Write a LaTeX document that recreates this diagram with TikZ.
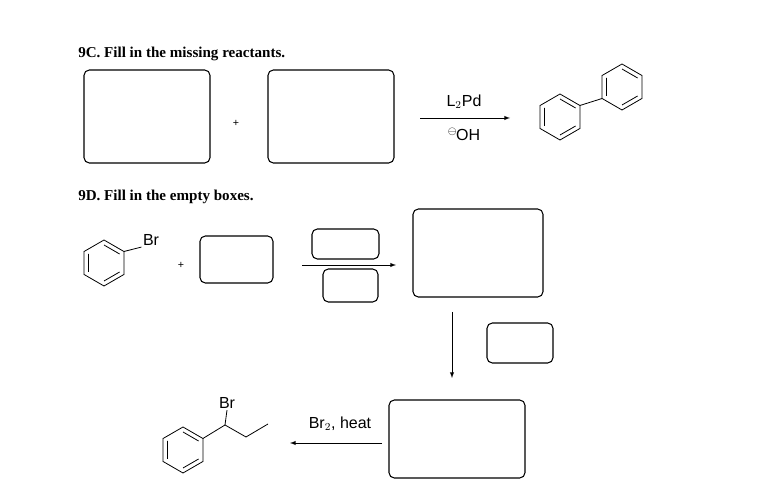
\documentclass[tikz,border=0pt]{standalone}
\usepackage{fontspec}
\usetikzlibrary{calc}
\setsansfont{Liberation Sans}
\setmainfont{Liberation Serif}
\begin{document}
\begin{tikzpicture}[x=0.75pt,y=-0.75pt,
  box/.style={draw,rounded corners=4pt,line width=0.8pt},
  lbl/.style={font=\sffamily\large,inner sep=1pt},
  ttl/.style={font=\bfseries\fontsize{11.3}{13}\selectfont,anchor=west,inner sep=0pt},
  rxn/.style={draw,-latex,line width=0.5pt},
  benzene/.pic={
    \draw[line width=0.6pt] (90:23)--(150:23)--(210:23)--(270:23)--(330:23)--(30:23)--cycle;
    \draw[line width=0.6pt] (150:18)--(210:18) (270:18)--(330:18) (30:18)--(90:18);
  }]
\useasboundingbox (0,0) rectangle (758,498);
% 9C
\node[ttl] (t9c) at (78,54) {9C. Fill in the missing reactants.};
\draw[box] (84,70) rectangle (210,163);
\draw[box] (268,70) rectangle (394,163);
\node[lbl,font=\sffamily\footnotesize] (p1) at (236,123) {+};
\coordinate (a1s) at (420,118); \coordinate (a1e) at (510,118);
\draw[rxn] (a1s)--(a1e);
\node[lbl] (l2pd) at (464,102) {L$_2$Pd};
\node[lbl] (oh) at (464,134) {$^{\ominus}$\kern-1pt OH};
\pic at (560,117) {benzene};
\pic at (622,87) {benzene};
\draw[line width=0.6pt] ($(560,117)+(330:23)$) -- ($(622,87)+(150:23)$);
% 9D
\node[ttl] (t9d) at (78,197) {9D. Fill in the empty boxes.};
\pic at (104,263) {benzene};
\node[lbl] (br1) at (151,240) {Br};
\draw[line width=0.6pt] ($(104,263)+(330:23)$) -- (br1.south west);
\node[lbl,font=\sffamily\footnotesize] (p2) at (181,265) {+};
\draw[box] (200,236) rectangle (273,283);
\draw[box] (312,229) rectangle (379,259);
\draw[box] (323,269) rectangle (378,302);
\coordinate (a2s) at (302,265); \coordinate (a2e) at (396,265);
\draw[rxn] (a2s)--(a2e);
\draw[box] (413,209) rectangle (543,297);
\coordinate (a3s) at (452,312); \coordinate (a3e) at (452,378);
\draw[rxn] (a3s)--(a3e);
\draw[box] (487,323) rectangle (553,363);
\draw[box] (389,400) rectangle (525,478);
\coordinate (a4s) at (382,443); \coordinate (a4e) at (290,443);
\draw[rxn] (a4s)--(a4e);
\node[lbl] (brh) at (340,424) {Br$_2$, heat};
\pic at (183,450) {benzene};
\coordinate (c1) at (225,425);
\coordinate (c2) at (246,437);
\coordinate (c3) at (268,424);
\node[lbl] (br2) at (227,403) {Br};
\draw[line width=0.6pt] ($(183,450)+(330:23)$) -- (c1) -- (c2) -- (c3);
\draw[line width=0.6pt] (c1) -- (br2.south);
\end{tikzpicture}
\end{document}
